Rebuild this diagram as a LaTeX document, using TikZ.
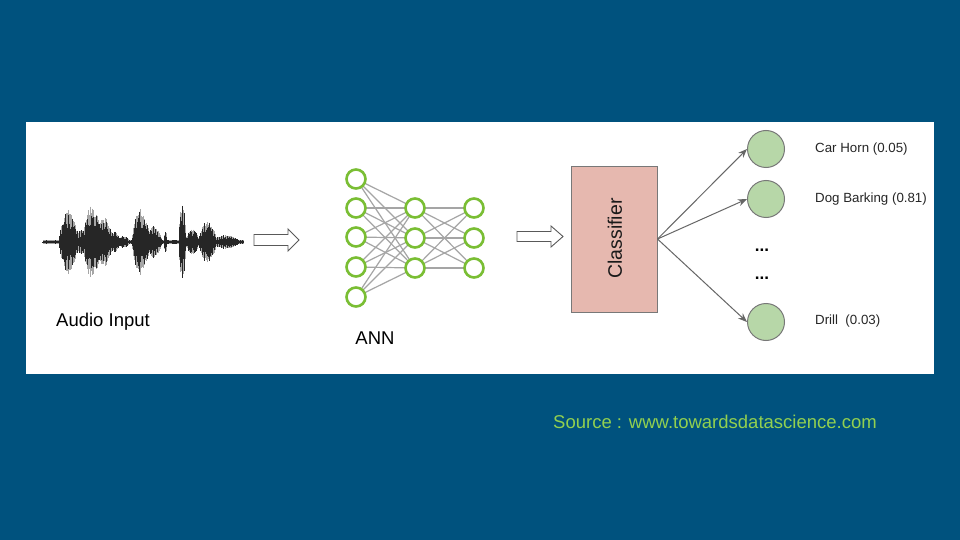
\documentclass[tikz,border=0pt]{standalone}
\usepackage{fontspec}
\setmainfont{Liberation Sans}
\usetikzlibrary{arrows.meta}
\definecolor{bgblue}{RGB}{0,82,126}
\definecolor{anngreen}{RGB}{122,190,52}
\definecolor{clsfill}{RGB}{230,184,175}
\definecolor{outfill}{RGB}{183,215,168}
\definecolor{srcgreen}{RGB}{146,208,80}
\definecolor{edgegray}{RGB}{165,165,165}
\definecolor{bordergray}{RGB}{120,120,120}
\begin{document}
\begin{tikzpicture}[x=1pt,y=-1pt,
  annnode/.style={circle,draw=anngreen,line width=2.6pt,fill=white,minimum size=19pt,inner sep=0pt},
  outnode/.style={circle,draw=bordergray,line width=1pt,fill=outfill,minimum size=37pt,inner sep=0pt},
  annedge/.style={draw=edgegray,line width=1.2pt},
  outarrow/.style={draw=black!60,line width=1pt,-{Stealth[length=9pt,width=7pt]}},
  hollow/.style={draw=black!65,line width=0.9pt,fill=white,line join=miter},
  wave/.style={draw=black!85,line width=1pt},
  wavehalo/.style={draw=black!35,line width=1pt},
  biglbl/.style={font=\fontsize{18.5}{20}\selectfont,text=black,inner sep=0pt},
  outlbl/.style={font=\fontsize{13.3}{15}\selectfont,text=black!85,inner sep=0pt,anchor=west}]
\useasboundingbox (0,0) rectangle (960,540);
\fill[bgblue] (0,0) rectangle (960,540);
\fill[white] (26,122) rectangle (934,374);
% waveform
\pgfmathsetseed{4242}
\foreach \x in {43,44,...,243} {
  \pgfmathsetmacro{\env}{2
    +30*max(0,1-((\x-68)/10)^2)
    +11*max(0,1-((\x-81)/5)^2)
    +36*max(0,1-((\x-91)/8)^2)
    +23*max(0,1-((\x-104)/9)^2)
    +9*max(0,1-((\x-115)/4)^2)
    +4*max(0,1-((\x-123)/6)^2)
    +32*max(0,1-((\x-140)/9)^2)
    +14*max(0,1-((\x-154)/8)^2)
    +9*max(0,1-((\x-165)/2)^2)
    +38*max(0,1-((\x-182)/4)^2)
    +11*max(0,1-((\x-192)/7)^2)
    +19*max(0,1-((\x-207)/9)^2)
    +5*max(0,1-((\x-225)/14)^2)}
  \pgfmathsetmacro{\amp}{\env*(0.4+0.6*rnd)}
  \pgfmathsetmacro{\ampb}{\env*(0.75+0.25*rnd)}
  \draw[wavehalo] (\x,242-\ampb) -- (\x,242+\ampb);
  \draw[wave] (\x,242-\amp) -- (\x,242+\amp);
}
\draw[black!85,line width=0.8pt] (42,242) -- (243,242);
\node[biglbl,anchor=west] (audio) at (56,322) {Audio Input};
% hollow arrows
\draw[hollow] (254,234.5) -- (288,234.5) -- (288,229) -- (299,240) -- (288,251) -- (288,245.5) -- (254,245.5) -- cycle;
\draw[hollow] (517,231.5) -- (551,231.5) -- (551,226) -- (563,236.5) -- (551,247) -- (551,241.5) -- (517,241.5) -- cycle;
% ANN
\foreach \i/\y in {1/179,2/208,3/237,4/267,5/297} \coordinate (i\i) at (356,\y);
\foreach \i/\y in {1/208,2/238,3/268} {\coordinate (h\i) at (415,\y); \coordinate (o\i) at (474,\y);}
\foreach \i in {1,...,5} \foreach \j in {1,2,3} \draw[annedge] (i\i) -- (h\j);
\foreach \i in {1,2,3} \foreach \j in {1,2,3} \draw[annedge] (h\i) -- (o\j);
\foreach \i in {1,...,5} \node[annnode] (ni\i) at (i\i) {};
\foreach \i in {1,2,3} {\node[annnode] (nh\i) at (h\i) {}; \node[annnode] (no\i) at (o\i) {};}
\node[biglbl] (ann) at (375,338) {ANN};
% classifier
\node[draw=bordergray,line width=1pt,fill=clsfill,minimum width=86pt,minimum height=145pt,inner sep=0pt] (cls) at (614,239.5) {};
\node[rotate=90,font=\fontsize{19.5}{21}\selectfont,text=black!90,inner sep=0pt] (clstext) at (615,238.5) {Classifier};
\coordinate (clsout) at (657.5,239);
% outputs
\node[outnode] (c1) at (766,149) {};
\node[outnode] (c2) at (766,199) {};
\node[outnode] (c3) at (766,322) {};
\draw[outarrow] (clsout) -- (c1.west);
\draw[outarrow] (clsout) -- (c2.west);
\draw[outarrow] (clsout) -- (c3.west);
\node[font=\bfseries\fontsize{17}{18}\selectfont,inner sep=0pt] (dots1) at (762,250) {...};
\node[font=\bfseries\fontsize{17}{18}\selectfont,inner sep=0pt] (dots2) at (762,278) {...};
\node[outlbl] (l1) at (815,149) {Car Horn (0.05)};
\node[outlbl] (l2) at (815,199.5) {Dog Barking (0.81)};
\node[outlbl] (l3) at (815,321) {Drill\ \ (0.03)};
% source
\node[font=\fontsize{18.5}{20}\selectfont,text=srcgreen,inner sep=0pt,anchor=west] (src) at (553,422) {Source : www.towardsdatascience.com};
\end{tikzpicture}
\end{document}
